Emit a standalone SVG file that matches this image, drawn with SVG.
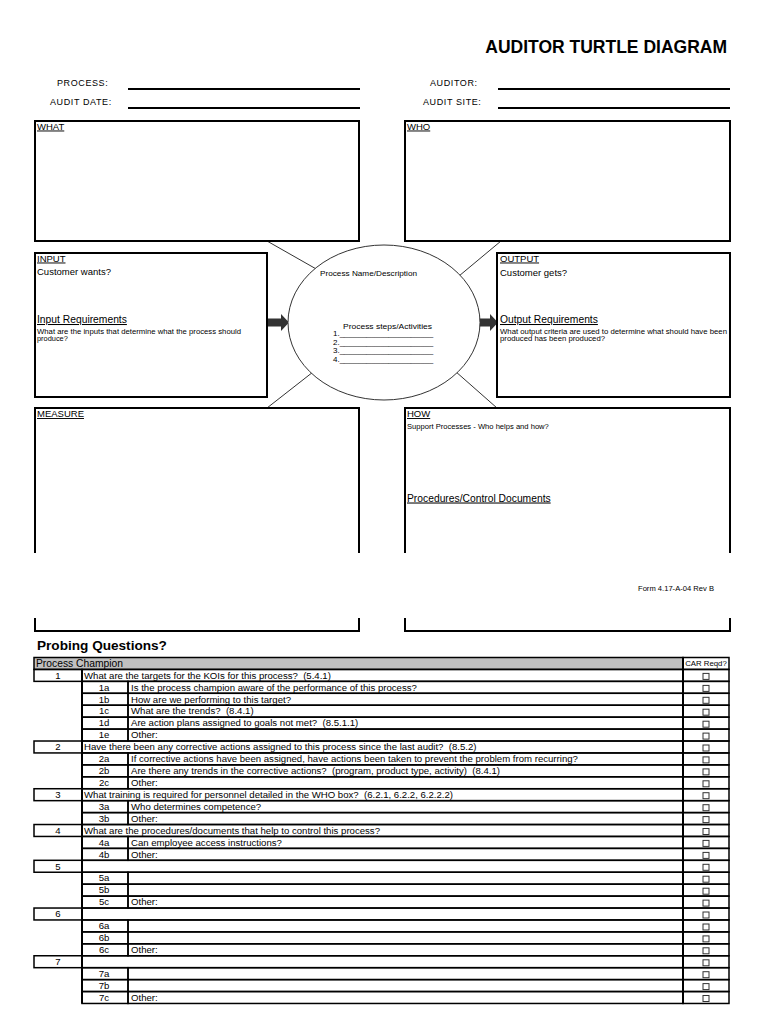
<svg xmlns="http://www.w3.org/2000/svg" width="768" height="1024" viewBox="0 0 768 1024">
<style>
text{font-family:"Liberation Sans",Arial,sans-serif;fill:#000}
.u{text-decoration:underline}
.box{fill:none;stroke:#000;stroke-width:2}
.fl{stroke:#000;stroke-width:2}
.lbl{font-size:9px;letter-spacing:0.6px}
.cap{font-size:9.5px}
.sm{font-size:7.4px}
.req{font-size:10.3px}
.q{font-size:9.6px;white-space:pre}
.c{fill:none;stroke:#000;stroke-width:1.5}
.cb{fill:#fff;stroke:#333;stroke-width:1}
.con{stroke:#333;stroke-width:1;fill:none}
.arr{fill:#333}
</style>
<rect width="768" height="1024" fill="#fff"/>
<g id="header">
<text x="727" y="53" text-anchor="end" font-size="17.5" font-weight="bold">AUDITOR TURTLE DIAGRAM</text>
<text class="lbl" x="57" y="86">PROCESS:</text>
<text class="lbl" x="50" y="105">AUDIT DATE:</text>
<text class="lbl" x="430" y="86">AUDITOR:</text>
<text class="lbl" x="423" y="105">AUDIT SITE:</text>
<line class="fl" x1="128" y1="89" x2="360" y2="89"/>
<line class="fl" x1="128" y1="108" x2="360" y2="108"/>
<line class="fl" x1="498" y1="89" x2="730" y2="89"/>
<line class="fl" x1="498" y1="108" x2="730" y2="108"/>
</g>
<g id="connectors">
<line class="con" x1="267" y1="241" x2="318" y2="270"/>
<line class="con" x1="501" y1="241" x2="459" y2="276"/>
<line class="con" x1="267" y1="408" x2="313" y2="372"/>
<line class="con" x1="497" y1="408" x2="455" y2="371"/>
<path class="arr" d="M267,318.5 H281 V314 L289,322.5 L281,331 V326.5 H267 Z"/>
<path class="arr" d="M478,318.5 H490 V314 L498,322.5 L490,331 V326.5 H478 Z"/>
</g>
<g id="what">
<rect class="box" x="35" y="121" width="324" height="120"/>
<text class="cap u" x="37" y="129.5">WHAT</text>
</g>
<g id="who">
<rect class="box" x="405" y="121" width="325" height="120"/>
<text class="cap u" x="407" y="129.5">WHO</text>
</g>
<g id="input">
<rect class="box" x="35" y="253" width="232" height="144"/>
<text class="cap u" x="37" y="261.5">INPUT</text>
<text class="cap" x="37" y="275">Customer wants?</text>
<text class="req u" x="37" y="323">Input Requirements</text>
<text class="sm" x="37" y="333.5" textLength="204" lengthAdjust="spacingAndGlyphs">What are the inputs that determine what the process should</text>
<text class="sm" x="37" y="340.5">produce?</text>
</g>
<g id="output">
<rect class="box" x="497" y="253" width="233" height="144"/>
<text class="cap u" x="500" y="261.5">OUTPUT</text>
<text class="cap" x="500" y="276">Customer gets?</text>
<text class="req u" x="500" y="323">Output Requirements</text>
<text class="sm" x="500" y="333.5" textLength="227" lengthAdjust="spacingAndGlyphs">What output criteria are used to determine what should have been</text>
<text class="sm" x="500" y="341" textLength="105" lengthAdjust="spacingAndGlyphs">produced has been produced?</text>
</g>
<g id="process">
<ellipse cx="384" cy="322.5" rx="96" ry="77.5" fill="#fff" stroke="#333" stroke-width="1"/>
<text x="320" y="275.5" font-size="8" textLength="97" lengthAdjust="spacingAndGlyphs">Process Name/Description</text>
<text x="343" y="328.5" font-size="8" textLength="89" lengthAdjust="spacingAndGlyphs">Process steps/Activities</text>
<text x="333" y="336" font-size="8">1._____________________</text>
<text x="333" y="344.5" font-size="8">2._____________________</text>
<text x="333" y="353" font-size="8">3._____________________</text>
<text x="333" y="361.5" font-size="8">4._____________________</text>
</g>
<g id="measure">
<path class="box" d="M35,553 V408 H359 V553 M35,618 V631 H359 V618"/>
<text class="cap u" x="37" y="417">MEASURE</text>
</g>
<g id="how">
<path class="box" d="M405,553 V408 H730 V553 M405,618 V631 H730 V618"/>
<text class="cap u" x="407" y="417">HOW</text>
<text x="407" y="429" font-size="7.6">Support Processes - Who helps and how?</text>
<text class="req u" x="407" y="501.5">Procedures/Control Documents</text>
</g>
<g id="footer">
<text x="638" y="590.5" font-size="7.5" textLength="76" lengthAdjust="spacingAndGlyphs">Form 4.17-A-04 Rev B</text>
<text x="37" y="650" font-size="13.6" font-weight="bold">Probing Questions?</text>
</g>
<g id="table">
<rect x="34" y="657.5" width="649" height="11.93" fill="#c0c0c0" stroke="#000" stroke-width="1.5"/>
<rect class="c" x="683" y="657.5" width="46" height="11.93"/>
<text x="36" y="666.9" font-size="10.3">Process Champion</text>
<text x="706" y="666.2" font-size="7.8" text-anchor="middle">CAR Reqd?</text>
<g id="q1"><rect class="c" x="34" y="669.43" width="48" height="11.93"/><rect class="c" x="82" y="669.43" width="601" height="11.93"/><rect class="c" x="683" y="669.43" width="46" height="11.93"/><rect class="cb" x="703" y="673.4" width="6" height="6"/>
<text class="q" x="58" y="678.6" text-anchor="middle">1</text><text class="q" x="84" y="678.6">What are the targets for the KOIs for this process?  (5.4.1)</text></g>
<g id="q1a"><rect class="c" x="82" y="681.36" width="46" height="11.93"/><rect class="c" x="128" y="681.36" width="555" height="11.93"/><rect class="c" x="683" y="681.36" width="46" height="11.93"/><rect class="cb" x="703" y="685.4" width="6" height="6"/>
<text class="q" x="104" y="690.6" text-anchor="middle">1a</text><text class="q" x="131" y="690.6">Is the process champion aware of the performance of this process?</text></g>
<g id="q1b"><rect class="c" x="82" y="693.29" width="46" height="11.93"/><rect class="c" x="128" y="693.29" width="555" height="11.93"/><rect class="c" x="683" y="693.29" width="46" height="11.93"/><rect class="cb" x="703" y="697.3" width="6" height="6"/>
<text class="q" x="104" y="702.5" text-anchor="middle">1b</text><text class="q" x="131" y="702.5">How are we performing to this target?</text></g>
<g id="q1c"><rect class="c" x="82" y="705.22" width="46" height="11.93"/><rect class="c" x="128" y="705.22" width="555" height="11.93"/><rect class="c" x="683" y="705.22" width="46" height="11.93"/><rect class="cb" x="703" y="709.2" width="6" height="6"/>
<text class="q" x="104" y="714.4" text-anchor="middle">1c</text><text class="q" x="131" y="714.4">What are the trends?  (8.4.1)</text></g>
<g id="q1d"><rect class="c" x="82" y="717.15" width="46" height="11.93"/><rect class="c" x="128" y="717.15" width="555" height="11.93"/><rect class="c" x="683" y="717.15" width="46" height="11.93"/><rect class="cb" x="703" y="721.2" width="6" height="6"/>
<text class="q" x="104" y="726.4" text-anchor="middle">1d</text><text class="q" x="131" y="726.4">Are action plans assigned to goals not met?  (8.5.1.1)</text></g>
<g id="q1e"><rect class="c" x="82" y="729.08" width="46" height="11.93"/><rect class="c" x="128" y="729.08" width="555" height="11.93"/><rect class="c" x="683" y="729.08" width="46" height="11.93"/><rect class="cb" x="703" y="733.1" width="6" height="6"/>
<text class="q" x="104" y="738.3" text-anchor="middle">1e</text><text class="q" x="131" y="738.3">Other:</text></g>
<g id="q2"><rect class="c" x="34" y="741.01" width="48" height="11.93"/><rect class="c" x="82" y="741.01" width="601" height="11.93"/><rect class="c" x="683" y="741.01" width="46" height="11.93"/><rect class="cb" x="703" y="745" width="6" height="6"/>
<text class="q" x="58" y="750.2" text-anchor="middle">2</text><text class="q" x="84" y="750.2">Have there been any corrective actions assigned to this process since the last audit?  (8.5.2)</text></g>
<g id="q2a"><rect class="c" x="82" y="752.94" width="46" height="11.93"/><rect class="c" x="128" y="752.94" width="555" height="11.93"/><rect class="c" x="683" y="752.94" width="46" height="11.93"/><rect class="cb" x="703" y="756.9" width="6" height="6"/>
<text class="q" x="104" y="762.1" text-anchor="middle">2a</text><text class="q" x="131" y="762.1">If corrective actions have been assigned, have actions been taken to prevent the problem from recurring?</text></g>
<g id="q2b"><rect class="c" x="82" y="764.87" width="46" height="11.93"/><rect class="c" x="128" y="764.87" width="555" height="11.93"/><rect class="c" x="683" y="764.87" width="46" height="11.93"/><rect class="cb" x="703" y="768.9" width="6" height="6"/>
<text class="q" x="104" y="774.1" text-anchor="middle">2b</text><text class="q" x="131" y="774.1">Are there any trends in the corrective actions?  (program, product type, activity)  (8.4.1)</text></g>
<g id="q2c"><rect class="c" x="82" y="776.8" width="46" height="11.93"/><rect class="c" x="128" y="776.8" width="555" height="11.93"/><rect class="c" x="683" y="776.8" width="46" height="11.93"/><rect class="cb" x="703" y="780.8" width="6" height="6"/>
<text class="q" x="104" y="786" text-anchor="middle">2c</text><text class="q" x="131" y="786">Other:</text></g>
<g id="q3"><rect class="c" x="34" y="788.73" width="48" height="11.93"/><rect class="c" x="82" y="788.73" width="601" height="11.93"/><rect class="c" x="683" y="788.73" width="46" height="11.93"/><rect class="cb" x="703" y="792.7" width="6" height="6"/>
<text class="q" x="58" y="797.9" text-anchor="middle">3</text><text class="q" x="84" y="797.9">What training is required for personnel detailed in the WHO box?  (6.2.1, 6.2.2, 6.2.2.2)</text></g>
<g id="q3a"><rect class="c" x="82" y="800.66" width="46" height="11.93"/><rect class="c" x="128" y="800.66" width="555" height="11.93"/><rect class="c" x="683" y="800.66" width="46" height="11.93"/><rect class="cb" x="703" y="804.7" width="6" height="6"/>
<text class="q" x="104" y="809.9" text-anchor="middle">3a</text><text class="q" x="131" y="809.9">Who determines competence?</text></g>
<g id="q3b"><rect class="c" x="82" y="812.59" width="46" height="11.93"/><rect class="c" x="128" y="812.59" width="555" height="11.93"/><rect class="c" x="683" y="812.59" width="46" height="11.93"/><rect class="cb" x="703" y="816.6" width="6" height="6"/>
<text class="q" x="104" y="821.8" text-anchor="middle">3b</text><text class="q" x="131" y="821.8">Other:</text></g>
<g id="q4"><rect class="c" x="34" y="824.52" width="48" height="11.93"/><rect class="c" x="82" y="824.52" width="601" height="11.93"/><rect class="c" x="683" y="824.52" width="46" height="11.93"/><rect class="cb" x="703" y="828.5" width="6" height="6"/>
<text class="q" x="58" y="833.7" text-anchor="middle">4</text><text class="q" x="84" y="833.7">What are the procedures/documents that help to control this process?</text></g>
<g id="q4a"><rect class="c" x="82" y="836.45" width="46" height="11.93"/><rect class="c" x="128" y="836.45" width="555" height="11.93"/><rect class="c" x="683" y="836.45" width="46" height="11.93"/><rect class="cb" x="703" y="840.4" width="6" height="6"/>
<text class="q" x="104" y="845.6" text-anchor="middle">4a</text><text class="q" x="131" y="845.6">Can employee access instructions?</text></g>
<g id="q4b"><rect class="c" x="82" y="848.38" width="46" height="11.93"/><rect class="c" x="128" y="848.38" width="555" height="11.93"/><rect class="c" x="683" y="848.38" width="46" height="11.93"/><rect class="cb" x="703" y="852.4" width="6" height="6"/>
<text class="q" x="104" y="857.6" text-anchor="middle">4b</text><text class="q" x="131" y="857.6">Other:</text></g>
<g id="q5"><rect class="c" x="34" y="860.31" width="48" height="11.93"/><rect class="c" x="82" y="860.31" width="601" height="11.93"/><rect class="c" x="683" y="860.31" width="46" height="11.93"/><rect class="cb" x="703" y="864.3" width="6" height="6"/>
<text class="q" x="58" y="869.5" text-anchor="middle">5</text></g>
<g id="q5a"><rect class="c" x="82" y="872.24" width="46" height="11.93"/><rect class="c" x="128" y="872.24" width="555" height="11.93"/><rect class="c" x="683" y="872.24" width="46" height="11.93"/><rect class="cb" x="703" y="876.2" width="6" height="6"/>
<text class="q" x="104" y="881.4" text-anchor="middle">5a</text></g>
<g id="q5b"><rect class="c" x="82" y="884.17" width="46" height="11.93"/><rect class="c" x="128" y="884.17" width="555" height="11.93"/><rect class="c" x="683" y="884.17" width="46" height="11.93"/><rect class="cb" x="703" y="888.2" width="6" height="6"/>
<text class="q" x="104" y="893.4" text-anchor="middle">5b</text></g>
<g id="q5c"><rect class="c" x="82" y="896.1" width="46" height="11.93"/><rect class="c" x="128" y="896.1" width="555" height="11.93"/><rect class="c" x="683" y="896.1" width="46" height="11.93"/><rect class="cb" x="703" y="900.1" width="6" height="6"/>
<text class="q" x="104" y="905.3" text-anchor="middle">5c</text><text class="q" x="131" y="905.3">Other:</text></g>
<g id="q6"><rect class="c" x="34" y="908.03" width="48" height="11.93"/><rect class="c" x="82" y="908.03" width="601" height="11.93"/><rect class="c" x="683" y="908.03" width="46" height="11.93"/><rect class="cb" x="703" y="912" width="6" height="6"/>
<text class="q" x="58" y="917.2" text-anchor="middle">6</text></g>
<g id="q6a"><rect class="c" x="82" y="919.96" width="46" height="11.93"/><rect class="c" x="128" y="919.96" width="555" height="11.93"/><rect class="c" x="683" y="919.96" width="46" height="11.93"/><rect class="cb" x="703" y="924" width="6" height="6"/>
<text class="q" x="104" y="929.2" text-anchor="middle">6a</text></g>
<g id="q6b"><rect class="c" x="82" y="931.89" width="46" height="11.93"/><rect class="c" x="128" y="931.89" width="555" height="11.93"/><rect class="c" x="683" y="931.89" width="46" height="11.93"/><rect class="cb" x="703" y="935.9" width="6" height="6"/>
<text class="q" x="104" y="941.1" text-anchor="middle">6b</text></g>
<g id="q6c"><rect class="c" x="82" y="943.82" width="46" height="11.93"/><rect class="c" x="128" y="943.82" width="555" height="11.93"/><rect class="c" x="683" y="943.82" width="46" height="11.93"/><rect class="cb" x="703" y="947.8" width="6" height="6"/>
<text class="q" x="104" y="953" text-anchor="middle">6c</text><text class="q" x="131" y="953">Other:</text></g>
<g id="q7"><rect class="c" x="34" y="955.75" width="48" height="11.93"/><rect class="c" x="82" y="955.75" width="601" height="11.93"/><rect class="c" x="683" y="955.75" width="46" height="11.93"/><rect class="cb" x="703" y="959.8" width="6" height="6"/>
<text class="q" x="58" y="965" text-anchor="middle">7</text></g>
<g id="q7a"><rect class="c" x="82" y="967.68" width="46" height="11.93"/><rect class="c" x="128" y="967.68" width="555" height="11.93"/><rect class="c" x="683" y="967.68" width="46" height="11.93"/><rect class="cb" x="703" y="971.7" width="6" height="6"/>
<text class="q" x="104" y="976.9" text-anchor="middle">7a</text></g>
<g id="q7b"><rect class="c" x="82" y="979.61" width="46" height="11.93"/><rect class="c" x="128" y="979.61" width="555" height="11.93"/><rect class="c" x="683" y="979.61" width="46" height="11.93"/><rect class="cb" x="703" y="983.6" width="6" height="6"/>
<text class="q" x="104" y="988.8" text-anchor="middle">7b</text></g>
<g id="q7c"><rect class="c" x="82" y="991.54" width="46" height="11.93"/><rect class="c" x="128" y="991.54" width="555" height="11.93"/><rect class="c" x="683" y="991.54" width="46" height="11.93"/><rect class="cb" x="703" y="995.5" width="6" height="6"/>
<text class="q" x="104" y="1000.7" text-anchor="middle">7c</text><text class="q" x="131" y="1000.7">Other:</text></g>
<line x1="82" y1="669.43" x2="82" y2="1003.47" stroke="#000" stroke-width="2"/>
<line x1="683" y1="657.5" x2="683" y2="1003.47" stroke="#000" stroke-width="2"/>
</g>
</svg>
